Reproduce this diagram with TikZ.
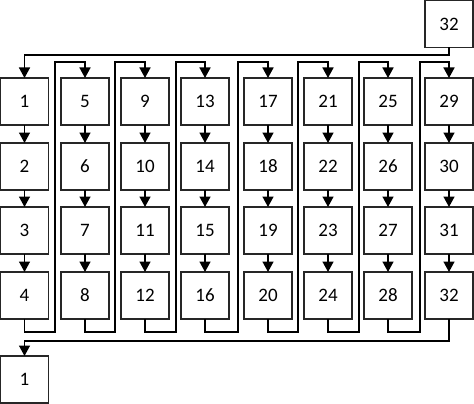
\documentclass[tikz,border=0pt]{standalone}
\usepackage{fontspec}
\setmainfont{Carlito}
\usetikzlibrary{arrows.meta}
\begin{document}
\begin{tikzpicture}[x=1pt,y=-1pt,
  box/.style={draw=black!85,line width=1.3pt,minimum width=48pt,minimum height=47pt,inner sep=0pt,outer sep=0pt,font=\fontsize{19}{21}\selectfont},
  arr/.style={line width=1.5pt,-{Triangle[length=10.5pt,width=11pt]}}]
\useasboundingbox (0,0) rectangle (474,404);
\foreach \c/\xl in {0/0.5,1/61,2/121,3/181,4/244,5/304,6/364,7/425}{
  \foreach \r/\yt in {0/78,1/143,2/207,3/272}{
    \pgfmathtruncatemacro\n{4*\c+\r+1}
    \node[box] (n\n) at (\xl+24,\yt+23.5) {\n};
  }
}
\node[box] (top) at (449,24) {32};
\node[box] (bot) at (24.5,379.5) {1};
% vertical arrows within columns
\foreach \c in {0,...,7}{
  \foreach \r in {1,2,3}{
    \pgfmathtruncatemacro\a{4*\c+\r}
    \pgfmathtruncatemacro\b{4*\c+\r+1}
    \draw[arr] (n\a.south) -- (n\b.north);
  }
}
% column transitions
\foreach \c/\rx in {0/55,1/115,2/176,3/238,4/298,5/359,6/420}{
  \pgfmathtruncatemacro\a{4*\c+4}
  \pgfmathtruncatemacro\b{4*\c+5}
  \draw[arr] (n\a.south) |- (\rx,332) -- (\rx,62) -| (n\b.north);
}
\draw[arr] (top.south) -- (449,55) -| (n1.north);
\draw[arr] (n32.south) -- (449,341) -| (bot.north);
\end{tikzpicture}
\end{document}
